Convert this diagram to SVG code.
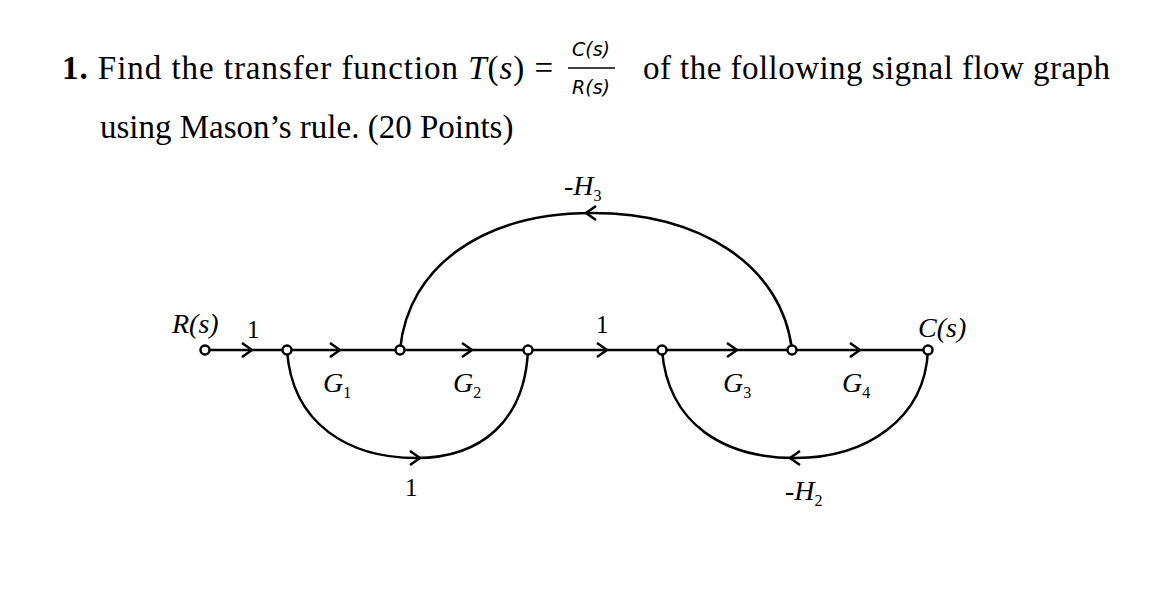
<svg xmlns="http://www.w3.org/2000/svg" width="1163" height="605" viewBox="0 0 1163 605">
<style>
.t{font-family:"Liberation Serif",serif;font-size:33px;fill:#000}
.f{font-family:"DejaVu Sans",sans-serif;font-size:19px;font-style:italic;fill:#000}
.l{font-family:"Liberation Serif",serif;font-size:28px;font-style:italic;fill:#000}
.n{font-family:"Liberation Serif",serif;font-size:25px;fill:#000}
.s{font-size:16px;font-style:normal}
.e{stroke:#000;stroke-width:2.5;fill:none}
.a{stroke:#000;stroke-width:2.5;fill:none;stroke-linejoin:miter}
.nd{fill:#fff;stroke:#000;stroke-width:2.5}
</style>
<rect width="1163" height="605" fill="#fff"/>
<text class="t" x="62" y="79" textLength="491" lengthAdjust="spacing"><tspan font-weight="bold">1.</tspan> Find the transfer function <tspan font-style="italic">T</tspan>(<tspan font-style="italic">s</tspan>) =</text>
<text class="f" x="591" y="56" text-anchor="middle">C(s)</text>
<line x1="568" y1="68" x2="615" y2="68" stroke="#000" stroke-width="1.5"/>
<text class="f" x="591" y="94" text-anchor="middle">R(s)</text>
<text class="t" x="643" y="79" textLength="467" lengthAdjust="spacing">of the following signal flow graph</text>
<text class="t" x="100" y="138">using Mason’s rule. (20 Points)</text>
<g id="connectors">
<line class="e" x1="205" y1="350" x2="928" y2="350"/>
<path class="e" d="M287,350 C292,425 350,458 416,458 C482,458 525,420 528,350"/>
<path class="e" d="M662,350 C668,425 725,458 795,458 C865,458 925,420 928,350"/>
<path class="e" d="M400,350 C408,265 485,213 592,213 C700,213 782,265 792,350"/>
<path class="a" d="M242,343 L252,350 L242,357"/>
<path class="a" d="M330,343 L340,350 L330,357"/>
<path class="a" d="M462,343 L472,350 L462,357"/>
<path class="a" d="M597,343 L607,350 L597,357"/>
<path class="a" d="M727,343 L737,350 L727,357"/>
<path class="a" d="M850,343 L860,350 L850,357"/>
<path class="a" d="M410,451 L420,458 L410,465"/>
<path class="a" d="M800,451 L790,458 L800,465"/>
<path class="a" d="M596,206 L586,213 L596,220"/>
</g>
<g id="n1"><circle class="nd" cx="205" cy="350" r="4.5"/><text class="l" x="172" y="333">R(s)</text></g>
<g id="n2"><circle class="nd" cx="287" cy="350" r="4.5"/></g>
<g id="n3"><circle class="nd" cx="400" cy="350" r="4.5"/></g>
<g id="n4"><circle class="nd" cx="528" cy="350" r="4.5"/></g>
<g id="n5"><circle class="nd" cx="662" cy="350" r="4.5"/></g>
<g id="n6"><circle class="nd" cx="792" cy="350" r="4.5"/></g>
<g id="n7"><circle class="nd" cx="928" cy="350" r="4.5"/><text class="l" x="918" y="337">C(s)</text></g>
<g id="labels">
<text class="n" x="247" y="338">1</text>
<text class="n" x="596" y="333">1</text>
<text class="n" x="405" y="496">1</text>
<text class="l" x="323" y="392">G<tspan class="s" dy="6">1</tspan></text>
<text class="l" x="453" y="392">G<tspan class="s" dy="6">2</tspan></text>
<text class="l" x="723" y="392">G<tspan class="s" dy="6">3</tspan></text>
<text class="l" x="842" y="392">G<tspan class="s" dy="6">4</tspan></text>
<text class="l" x="785" y="500">-H<tspan class="s" dy="6">2</tspan></text>
<text class="l" x="564" y="195">-H<tspan class="s" dy="6">3</tspan></text>
</g>
</svg>
